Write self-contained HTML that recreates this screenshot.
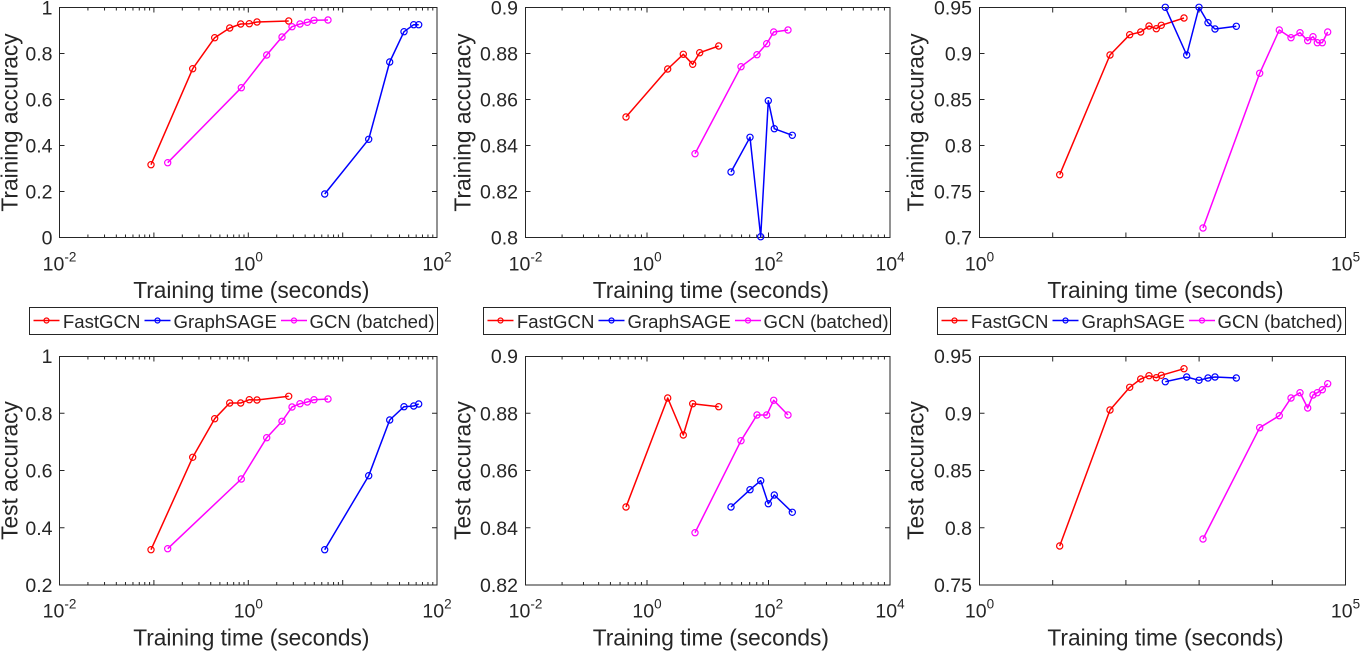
<!DOCTYPE html>
<html><head><meta charset="utf-8"><style>
html,body{margin:0;padding:0;background:#fff;}
svg{display:block;}
text{font-family:"Liberation Sans",Arial,sans-serif;fill:#262626;}
.tk{font-size:19.5px;}
.lb{font-size:22.7px;}
.lg{font-size:18.6px;}
</style></head><body>
<svg width="1363" height="651" viewBox="0 0 1363 651" xmlns="http://www.w3.org/2000/svg">
<defs>
<path id="d1" d="M28.42 0v-3M45.04 0v-3M56.83 0v-3M65.98 0v-3M73.46 0v-3M79.78 0v-3M85.25 0v-3M90.08 0v-3"/>
<path id="d2" d="M36.58 0v-3M57.97 0v-3M73.15 0v-3M84.92 0v-3M94.55 0v-3M102.68 0v-3M109.73 0v-3M115.94 0v-3"/>
<marker id="mr" viewBox="-5 -5 10 10" markerWidth="10" markerHeight="10" refX="0" refY="0" markerUnits="userSpaceOnUse"><circle r="3.1" fill="none" stroke="#ff0000" stroke-width="1.2"/></marker>
<marker id="mb" viewBox="-5 -5 10 10" markerWidth="10" markerHeight="10" refX="0" refY="0" markerUnits="userSpaceOnUse"><circle r="3.1" fill="none" stroke="#0000ff" stroke-width="1.2"/></marker>
<marker id="mm" viewBox="-5 -5 10 10" markerWidth="10" markerHeight="10" refX="0" refY="0" markerUnits="userSpaceOnUse"><circle r="3.1" fill="none" stroke="#ff00ff" stroke-width="1.2"/></marker>
</defs>
<rect width="1363" height="651" fill="#fff"/>

<!-- axes frames and ticks -->
<g stroke="#262626" stroke-width="1" fill="none">
<!-- P1 -->
<rect x="59.5" y="7.5" width="377.5" height="230"/>
<use href="#d1" transform="translate(59.5,237.5)"/><use href="#d1" transform="translate(153.9,237.5)"/><use href="#d1" transform="translate(248.3,237.5)"/><use href="#d1" transform="translate(342.7,237.5)"/>
<use href="#d1" transform="translate(59.5,7.5) scale(1,-1)"/><use href="#d1" transform="translate(153.9,7.5) scale(1,-1)"/><use href="#d1" transform="translate(248.3,7.5) scale(1,-1)"/><use href="#d1" transform="translate(342.7,7.5) scale(1,-1)"/>
<path d="M153.9 237.5v-5M248.3 237.5v-5M342.7 237.5v-5M153.9 7.5v5M248.3 7.5v5M342.7 7.5v5
M59.5 191.5h5M59.5 145.5h5M59.5 99.5h5M59.5 53.5h5M437 191.5h-5M437 145.5h-5M437 99.5h-5M437 53.5h-5"/>
<!-- P4 -->
<rect x="59.5" y="356.5" width="377.5" height="228.5"/>
<use href="#d1" transform="translate(59.5,585)"/><use href="#d1" transform="translate(153.9,585)"/><use href="#d1" transform="translate(248.3,585)"/><use href="#d1" transform="translate(342.7,585)"/>
<use href="#d1" transform="translate(59.5,356.5) scale(1,-1)"/><use href="#d1" transform="translate(153.9,356.5) scale(1,-1)"/><use href="#d1" transform="translate(248.3,356.5) scale(1,-1)"/><use href="#d1" transform="translate(342.7,356.5) scale(1,-1)"/>
<path d="M153.9 585v-5M248.3 585v-5M342.7 585v-5M153.9 356.5v5M248.3 356.5v5M342.7 356.5v5
M59.5 527.75h5M59.5 470.5h5M59.5 413.25h5M437 527.75h-5M437 470.5h-5M437 413.25h-5"/>
<!-- P2 -->
<rect x="525.5" y="7.5" width="364.5" height="230"/>
<use href="#d2" transform="translate(525.5,237.5)"/><use href="#d2" transform="translate(647,237.5)"/><use href="#d2" transform="translate(768.5,237.5)"/>
<use href="#d2" transform="translate(525.5,7.5) scale(1,-1)"/><use href="#d2" transform="translate(647,7.5) scale(1,-1)"/><use href="#d2" transform="translate(768.5,7.5) scale(1,-1)"/>
<path d="M647 237.5v-5M768.5 237.5v-5M647 7.5v5M768.5 7.5v5
M525.5 191.5h5M525.5 145.5h5M525.5 99.5h5M525.5 53.5h5M890 191.5h-5M890 145.5h-5M890 99.5h-5M890 53.5h-5"/>
<!-- P5 -->
<rect x="525.5" y="356.5" width="364.5" height="228.5"/>
<use href="#d2" transform="translate(525.5,585)"/><use href="#d2" transform="translate(647,585)"/><use href="#d2" transform="translate(768.5,585)"/>
<use href="#d2" transform="translate(525.5,356.5) scale(1,-1)"/><use href="#d2" transform="translate(647,356.5) scale(1,-1)"/><use href="#d2" transform="translate(768.5,356.5) scale(1,-1)"/>
<path d="M647 585v-5M768.5 585v-5M647 356.5v5M768.5 356.5v5
M525.5 527.75h5M525.5 470.5h5M525.5 413.25h5M890 527.75h-5M890 470.5h-5M890 413.25h-5"/>
<!-- P3 -->
<rect x="979.5" y="7.5" width="366" height="230"/>
<path d="M1052.7 237.5v-5M1125.9 237.5v-5M1199.1 237.5v-5M1272.3 237.5v-5M1052.7 7.5v5M1125.9 7.5v5M1199.1 7.5v5M1272.3 7.5v5
M979.5 191.5h5M979.5 145.5h5M979.5 99.5h5M979.5 53.5h5M1345.5 191.5h-5M1345.5 145.5h-5M1345.5 99.5h-5M1345.5 53.5h-5"/>
<!-- P6 -->
<rect x="979.5" y="356.5" width="366" height="228.5"/>
<path d="M1052.7 585v-5M1125.9 585v-5M1199.1 585v-5M1272.3 585v-5M1052.7 356.5v5M1125.9 356.5v5M1199.1 356.5v5M1272.3 356.5v5
M979.5 527.75h5M979.5 470.5h5M979.5 413.25h5M1345.5 527.75h-5M1345.5 470.5h-5M1345.5 413.25h-5"/>
</g>

<!-- data -->
<g fill="none" stroke-width="1.5" stroke-linejoin="round">
<!-- P1 -->
<polyline stroke="#ff0000" marker-start="url(#mr)" marker-mid="url(#mr)" marker-end="url(#mr)" points="151,164.7 192.7,68.7 214.7,37.7 229.7,28 240.7,24 249.3,23.7 257,22 288.7,21"/>
<polyline stroke="#ff00ff" marker-start="url(#mm)" marker-mid="url(#mm)" marker-end="url(#mm)" points="167.7,162.7 241.3,87.7 266.7,55 282,37 292,26.7 300,24 307.3,22.3 314,20.3 328,20"/>
<polyline stroke="#0000ff" marker-start="url(#mb)" marker-mid="url(#mb)" marker-end="url(#mb)" points="324.7,194 368.7,139.3 389.7,62 404,31.7 413.7,24.7 418.7,24.7"/>
<!-- P4 -->
<polyline stroke="#ff0000" marker-start="url(#mr)" marker-mid="url(#mr)" marker-end="url(#mr)" points="151,549.7 192.7,457.3 214.7,418.7 229.7,403 240.7,403 249.3,399.7 257,400 288.7,396.3"/>
<polyline stroke="#ff00ff" marker-start="url(#mm)" marker-mid="url(#mm)" marker-end="url(#mm)" points="167.7,548.7 241.3,479 266.7,437.7 282,421.3 292,407 300,403.7 307.3,402 314,399.7 328,399"/>
<polyline stroke="#0000ff" marker-start="url(#mb)" marker-mid="url(#mb)" marker-end="url(#mb)" points="324.7,549.7 368.7,475.7 389.7,420 404,406.7 413.7,406 418.7,404"/>
<!-- P2 -->
<polyline stroke="#ff0000" marker-start="url(#mr)" marker-mid="url(#mr)" marker-end="url(#mr)" points="626,117 667.7,69 683.3,54.3 692.7,64.3 699.7,52.7 718.7,46"/>
<polyline stroke="#ff00ff" marker-start="url(#mm)" marker-mid="url(#mm)" marker-end="url(#mm)" points="695,153.7 741,66.7 757,54.7 766.7,43.7 773.7,32 788,30"/>
<polyline stroke="#0000ff" marker-start="url(#mb)" marker-mid="url(#mb)" marker-end="url(#mb)" points="731,172 750,137.3 760.7,236.7 768.3,100.7 774.3,128.7 792.3,135.3"/>
<!-- P5 -->
<polyline stroke="#ff0000" marker-start="url(#mr)" marker-mid="url(#mr)" marker-end="url(#mr)" points="626,507 667.7,398 683.3,435 692.7,403.7 718.7,406.7"/>
<polyline stroke="#ff00ff" marker-start="url(#mm)" marker-mid="url(#mm)" marker-end="url(#mm)" points="695,532.7 741,440.7 757,415 766.7,415 773.7,400.3 788,415"/>
<polyline stroke="#0000ff" marker-start="url(#mb)" marker-mid="url(#mb)" marker-end="url(#mb)" points="731,507 750,489.7 760.7,480.7 768.3,503.7 774.3,495 792.3,512.3"/>
<!-- P3 -->
<polyline stroke="#ff0000" marker-start="url(#mr)" marker-mid="url(#mr)" marker-end="url(#mr)" points="1059.7,174.7 1110,55 1129.7,34.7 1140.7,32 1149,26 1156.3,28.7 1161.3,25.3 1184,18"/>
<polyline stroke="#0000ff" marker-start="url(#mb)" marker-mid="url(#mb)" marker-end="url(#mb)" points="1165.3,7.3 1186.7,55 1199,7.3 1208,22.7 1215,29 1236.3,26.3"/>
<polyline stroke="#ff00ff" marker-start="url(#mm)" marker-mid="url(#mm)" marker-end="url(#mm)" points="1203,228 1259.7,73.3 1279.3,30 1291,37.7 1300,32.7 1307.7,40.7 1313,36.7 1317.3,42.7 1322.3,42.7 1327.7,32"/>
<!-- P6 -->
<polyline stroke="#ff0000" marker-start="url(#mr)" marker-mid="url(#mr)" marker-end="url(#mr)" points="1059.7,546 1110,410 1129.7,387.3 1140.7,379 1149,375.7 1156.3,377.7 1161.3,375.3 1184,368.7"/>
<polyline stroke="#0000ff" marker-start="url(#mb)" marker-mid="url(#mb)" marker-end="url(#mb)" points="1165.3,381.7 1186.7,377 1199,380.3 1208,378 1215,377 1236.3,378"/>
<polyline stroke="#ff00ff" marker-start="url(#mm)" marker-mid="url(#mm)" marker-end="url(#mm)" points="1203,539 1259.7,427.7 1279.3,415.7 1291,398 1300,392.7 1307.7,408 1313,395 1317.3,392.7 1322.3,389.7 1327.7,383.7"/>
</g>

<!-- y tick labels -->
<g class="tk" text-anchor="end">
<text x="52.5" y="244.5">0</text><text x="52.5" y="198.5">0.2</text><text x="52.5" y="152.5">0.4</text><text x="52.5" y="106.5">0.6</text><text x="52.5" y="60.5">0.8</text><text x="52.5" y="14.5">1</text>
<text x="52.5" y="592">0.2</text><text x="52.5" y="534.75">0.4</text><text x="52.5" y="477.5">0.6</text><text x="52.5" y="420.25">0.8</text><text x="52.5" y="363">1</text>
<text x="518" y="244.5">0.8</text><text x="518" y="198.5">0.82</text><text x="518" y="152.5">0.84</text><text x="518" y="106.5">0.86</text><text x="518" y="60.5">0.88</text><text x="518" y="14.5">0.9</text>
<text x="518" y="592">0.82</text><text x="518" y="534.75">0.84</text><text x="518" y="477.5">0.86</text><text x="518" y="420.25">0.88</text><text x="518" y="363">0.9</text>
<text x="972" y="244.5">0.7</text><text x="972" y="198.5">0.75</text><text x="972" y="152.5">0.8</text><text x="972" y="106.5">0.85</text><text x="972" y="60.5">0.9</text><text x="972" y="14.5">0.95</text>
<text x="972" y="592">0.75</text><text x="972" y="534.75">0.8</text><text x="972" y="477.5">0.85</text><text x="972" y="420.25">0.9</text><text x="972" y="363">0.95</text>
</g>

<!-- x tick labels -->
<g class="tk" text-anchor="middle">
<text x="59.5" y="270.7">10<tspan font-size="13.5" dy="-9">-2</tspan></text>
<text x="248.3" y="270.7">10<tspan font-size="13.5" dy="-9">0</tspan></text>
<text x="437" y="270.7">10<tspan font-size="13.5" dy="-9">2</tspan></text>
<text x="59.5" y="617.7">10<tspan font-size="13.5" dy="-9">-2</tspan></text>
<text x="248.3" y="617.7">10<tspan font-size="13.5" dy="-9">0</tspan></text>
<text x="437" y="617.7">10<tspan font-size="13.5" dy="-9">2</tspan></text>
<text x="525.5" y="270.7">10<tspan font-size="13.5" dy="-9">-2</tspan></text>
<text x="647" y="270.7">10<tspan font-size="13.5" dy="-9">0</tspan></text>
<text x="768.5" y="270.7">10<tspan font-size="13.5" dy="-9">2</tspan></text>
<text x="890" y="270.7">10<tspan font-size="13.5" dy="-9">4</tspan></text>
<text x="525.5" y="617.7">10<tspan font-size="13.5" dy="-9">-2</tspan></text>
<text x="647" y="617.7">10<tspan font-size="13.5" dy="-9">0</tspan></text>
<text x="768.5" y="617.7">10<tspan font-size="13.5" dy="-9">2</tspan></text>
<text x="890" y="617.7">10<tspan font-size="13.5" dy="-9">4</tspan></text>
<text x="979.5" y="270.7">10<tspan font-size="13.5" dy="-9">0</tspan></text>
<text x="1345.5" y="270.7">10<tspan font-size="13.5" dy="-9">5</tspan></text>
<text x="979.5" y="617.7">10<tspan font-size="13.5" dy="-9">0</tspan></text>
<text x="1345.5" y="617.7">10<tspan font-size="13.5" dy="-9">5</tspan></text>
</g>

<!-- axis labels -->
<g class="lb" text-anchor="middle">
<text x="251.3" y="298">Training time (seconds)</text>
<text x="710.8" y="298">Training time (seconds)</text>
<text x="1165.5" y="298">Training time (seconds)</text>
<text x="251.3" y="645.7">Training time (seconds)</text>
<text x="710.8" y="645.7">Training time (seconds)</text>
<text x="1165.5" y="645.7">Training time (seconds)</text>
<text transform="translate(17.3,122.5) rotate(-90)">Training accuracy</text>
<text transform="translate(470.7,122.5) rotate(-90)">Training accuracy</text>
<text transform="translate(923.7,122.5) rotate(-90)">Training accuracy</text>
<text transform="translate(17.3,470.5) rotate(-90)">Test accuracy</text>
<text transform="translate(470.7,470.5) rotate(-90)">Test accuracy</text>
<text transform="translate(923.7,470.5) rotate(-90)">Test accuracy</text>
</g>

<!-- legends -->
<g>
<rect x="29.5" y="307.5" width="408" height="27" fill="#fff" stroke="#262626" stroke-width="1"/>
<rect x="483.5" y="307.5" width="407" height="27" fill="#fff" stroke="#262626" stroke-width="1"/>
<rect x="937.5" y="307.5" width="408" height="27" fill="#fff" stroke="#262626" stroke-width="1"/>
</g>
<g fill="none" stroke-width="1.5">
<path stroke="#ff0000" d="M33.5 320.5h26M487.5 320.5h26M941.5 320.5h26"/>
<path stroke="#0000ff" d="M144.5 320.5h26M598.5 320.5h26M1052.5 320.5h26"/>
<path stroke="#ff00ff" d="M281 320.5h26M735 320.5h26M1189 320.5h26"/>
</g>
<g fill="none" stroke-width="1.2">
<circle cx="46.5" cy="320.5" r="2.5" stroke="#ff0000"/><circle cx="500.5" cy="320.5" r="2.5" stroke="#ff0000"/><circle cx="954.5" cy="320.5" r="2.5" stroke="#ff0000"/>
<circle cx="157.5" cy="320.5" r="2.5" stroke="#0000ff"/><circle cx="611.5" cy="320.5" r="2.5" stroke="#0000ff"/><circle cx="1065.5" cy="320.5" r="2.5" stroke="#0000ff"/>
<circle cx="294" cy="320.5" r="2.5" stroke="#ff00ff"/><circle cx="748" cy="320.5" r="2.5" stroke="#ff00ff"/><circle cx="1202" cy="320.5" r="2.5" stroke="#ff00ff"/>
</g>
<g class="lg">
<text x="62.9" y="328">FastGCN</text><text x="173.5" y="328">GraphSAGE</text><text x="309.5" y="328">GCN (batched)</text>
<text x="516.9" y="328">FastGCN</text><text x="627.5" y="328">GraphSAGE</text><text x="763.5" y="328">GCN (batched)</text>
<text x="970.9" y="328">FastGCN</text><text x="1081.5" y="328">GraphSAGE</text><text x="1217.5" y="328">GCN (batched)</text>
</g>
</svg>
</body></html>
